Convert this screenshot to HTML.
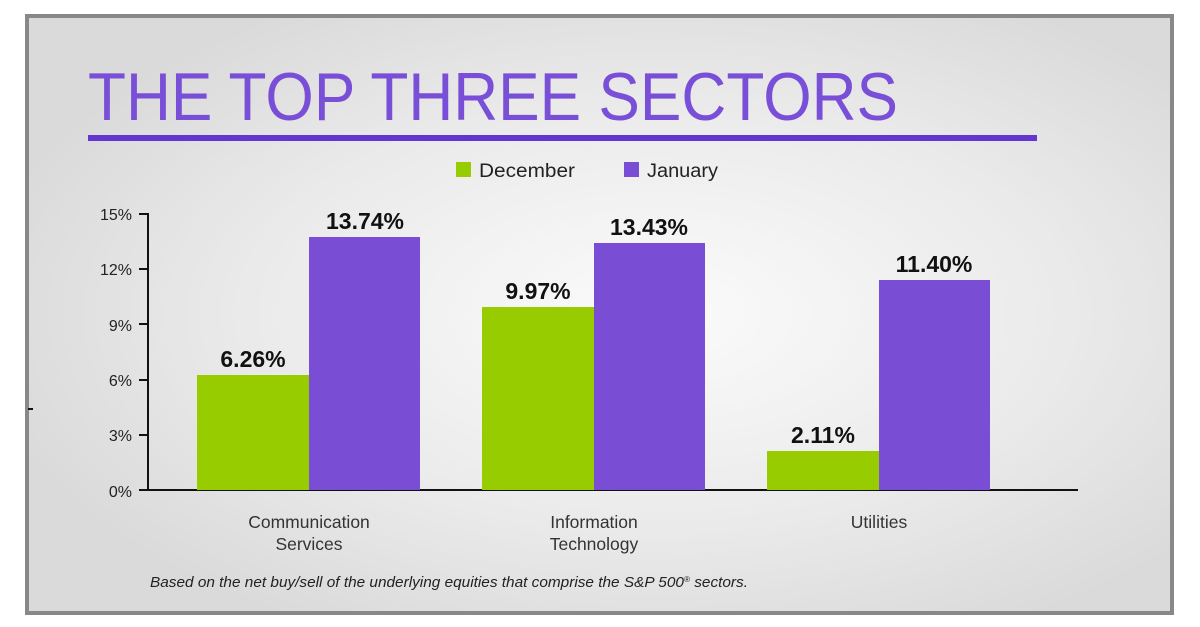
<!DOCTYPE html>
<html><head><meta charset="utf-8"><style>
html,body{margin:0;padding:0;background:#fff;}
svg{display:block;}
text{font-family:"Liberation Sans",sans-serif;}
</style></head><body>
<svg width="1200" height="627" viewBox="0 0 1200 627" xmlns="http://www.w3.org/2000/svg">
<defs>
<radialGradient id="bg" cx="0.55" cy="0.5" r="0.6">
<stop offset="0" stop-color="#fbfbfb"/>
<stop offset="0.6" stop-color="#eaeaea"/>
<stop offset="1" stop-color="#dbdadb"/>
</radialGradient>
</defs>
<rect x="27" y="16" width="1145" height="597" fill="url(#bg)" stroke="#888" stroke-width="4"/>
<text x="88" y="120" font-size="68" fill="#7a4fd8" textLength="810" lengthAdjust="spacingAndGlyphs">THE TOP THREE SECTORS</text>
<rect x="88" y="135" width="949" height="6" fill="#6236cf"/>
<rect x="456" y="162" width="15" height="15" fill="#97cc00"/>
<text x="479" y="177" font-size="19" fill="#222" textLength="96" lengthAdjust="spacingAndGlyphs">December</text>
<rect x="624" y="162" width="15" height="15" fill="#7a4ed4"/>
<text x="647" y="177" font-size="19" fill="#222" textLength="71" lengthAdjust="spacingAndGlyphs">January</text>
<g font-size="16" fill="#222" text-anchor="end">
<text x="132" y="220">15%</text>
<text x="132" y="275">12%</text>
<text x="132" y="331">9%</text>
<text x="132" y="386">6%</text>
<text x="132" y="441">3%</text>
<text x="132" y="497">0%</text>
</g>
<g stroke="#111" stroke-width="2">
<line x1="148" y1="213" x2="148" y2="491"/>
<line x1="139" y1="214" x2="148" y2="214"/>
<line x1="139" y1="269" x2="148" y2="269"/>
<line x1="139" y1="324" x2="148" y2="324"/>
<line x1="139" y1="380" x2="148" y2="380"/>
<line x1="139" y1="435" x2="148" y2="435"/>
<line x1="139" y1="490" x2="1078" y2="490"/>
<line x1="28" y1="409" x2="33" y2="409"/>
</g>
<g fill="#97cc00">
<rect x="197" y="375" width="112" height="115"/>
<rect x="482" y="307" width="112" height="183"/>
<rect x="767" y="451" width="112" height="39"/>
</g>
<g fill="#7a4ed4">
<rect x="309" y="237" width="111" height="253"/>
<rect x="594" y="243" width="111" height="247"/>
<rect x="879" y="280" width="111" height="210"/>
</g>
<g font-size="23" font-weight="bold" fill="#111" text-anchor="middle">
<text x="253" y="367">6.26%</text>
<text x="365" y="229">13.74%</text>
<text x="538" y="299">9.97%</text>
<text x="649" y="235">13.43%</text>
<text x="823" y="443">2.11%</text>
<text x="934" y="272">11.40%</text>
</g>
<g font-size="17.5" fill="#333" text-anchor="middle">
<text x="309" y="528">Communication</text>
<text x="309" y="550">Services</text>
<text x="594" y="528">Information</text>
<text x="594" y="550">Technology</text>
<text x="879" y="528">Utilities</text>
</g>
<text x="150" y="587" font-size="15" font-style="italic" fill="#222" textLength="598" lengthAdjust="spacingAndGlyphs">Based on the net buy/sell of the underlying equities that comprise the S&amp;P 500<tspan font-size="8" dy="-5">®</tspan><tspan dy="5"> sectors.</tspan></text>
</svg>
</body></html>
